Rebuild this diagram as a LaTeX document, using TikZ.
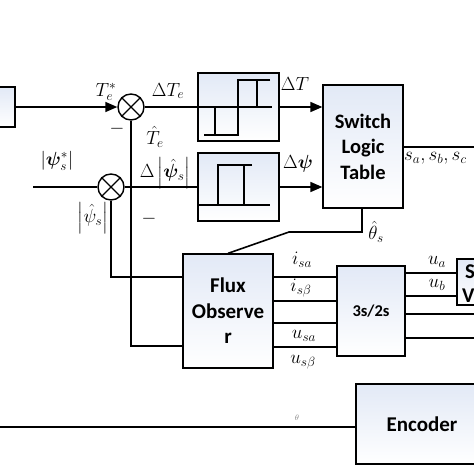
\RequirePackage{fix-cm}
\documentclass[tikz,border=0pt]{standalone}
\usepackage{amsmath}
\usepackage{bm}
\usepackage{fontspec}
\newfontfamily\boxfont{Carlito}
\usetikzlibrary{arrows.meta}
\definecolor{boxblue}{RGB}{226,233,246}
\tikzset{
  blk/.style={draw, line width=1.3pt, top color=boxblue, bottom color=white, inner sep=0pt,
    font=\boxfont\bfseries\fontsize{21}{25.5}\selectfont, align=center},
  sumnode/.style={draw, circle, minimum size=26pt, inner sep=0pt, line width=1.4pt, fill=white},
  wire/.style={line width=1.6pt},
  arr/.style={-{Triangle[length=12pt,width=10pt]}},
  lbl/.style={font=\fontsize{19}{22}\selectfont, inner sep=0pt},
  boxtext/.style={font=\boxfont\bfseries\fontsize{21}{25.5}\selectfont, inner sep=0pt, align=center}
}
\begin{document}
\begin{tikzpicture}[x=1pt,y=-1pt]
\useasboundingbox (0,0) rectangle (474,474);
\clip (0,0) rectangle (474,474);
% blocks
\node[blk, minimum width=30pt, minimum height=40pt] (ref) at (0,107) {};
\node[blk, minimum width=81pt, minimum height=68pt] (h1) at (238.5,107) {};
\node[blk, minimum width=81pt, minimum height=68pt] (h2) at (238.5,187) {};
\node[blk, font=\boxfont\bfseries\fontsize{20.5}{25.5}\selectfont, minimum width=80pt, minimum height=123pt] (sw) at (363,146.5) {Switch\\Logic\\Table};
\node[blk, minimum width=90pt, minimum height=114pt] (fo) at (228,311) {Flux\\Observe\\r};
\node[blk, font=\boxfont\bfseries\fontsize{16.5}{20}\selectfont, minimum width=68pt, minimum height=90pt] (tr) at (371,311) {3s/2s};
\node[blk, minimum width=40pt, minimum height=46pt] (sv) at (477,282) {};
\node[boxtext, anchor=west] (svs) at (465,272) {S};
\node[boxtext, anchor=west] (svv) at (462,296) {V};
\node[blk, minimum width=160pt, minimum height=80pt] (enc) at (436,424) {};
\node[boxtext] (enct) at (422,424) {Encoder};
% summing junctions
\node[sumnode] (c1) at (131,107) {};
\node[sumnode] (c2) at (111,187) {};
\draw[line width=1.4pt] (c1.45) -- (c1.225) (c1.135) -- (c1.315);
\draw[line width=1.4pt] (c2.45) -- (c2.225) (c2.135) -- (c2.315);
% hysteresis characteristics
\coordinate (h1a) at (272,107);
\draw[wire] (h1.west) -- (h1a);
\draw[wire] (270,80) -- (238,80) -- (238,135) -- (204,135);
\draw[wire] (257,80) -- (257,107);
\draw[wire] (215,107) -- (215,135);
\coordinate (h2a) at (198,205);
\coordinate (h2b) at (270,205);
\draw[wire] (h2a) -- (h2b);
\draw[wire] (252,165) -- (218,165) -- (218,205);
\draw[wire] (244,165) -- (244,205);
% connectors
\draw[wire, arr] (ref.east) -- (c1.west);
\draw[wire] (c1.east) -- (h1.west);
\draw[wire, arr] (h1.east) -- (h1.east -| sw.west);
\coordinate (psin) at (33,187);
\draw[wire] (psin) -- (c2.west);
\draw[wire] (c2.east) -- (h2.west);
\draw[wire, arr] (h2.east) -- (h2.east -| sw.west);
\coordinate (swo) at (480,147);
\draw[wire] (sw.east |- swo) -- (swo);
\coordinate (thc) at (362,232);
\coordinate (thd) at (289,232);
\draw[wire] (sw.south -| thc) -- (thc) -- (thd) -- (fo.north);
\coordinate (fa) at (0,277);
\coordinate (fb) at (0,346);
\draw[wire] (c2.south) |- (fo.west |- fa);
\draw[wire] (c1.south) |- (fo.west |- fb);
\coordinate (o1) at (0,277);
\coordinate (o2) at (0,301);
\coordinate (o3) at (0,323);
\coordinate (o4) at (0,347);
\draw[wire] (fo.east |- o1) -- (tr.west |- o1);
\draw[wire] (fo.east |- o2) -- (tr.west |- o2);
\draw[wire] (fo.east |- o3) -- (tr.west |- o3);
\draw[wire] (fo.east |- o4) -- (tr.west |- o4);
\coordinate (p1) at (0,273);
\coordinate (p2) at (0,296);
\coordinate (p3) at (480,314);
\coordinate (p4) at (480,338);
\draw[wire] (tr.east |- p1) -- (sv.west |- p1);
\draw[wire] (tr.east |- p2) -- (sv.west |- p2);
\draw[wire] (tr.east |- p3) -- (p3);
\draw[wire] (tr.east |- p4) -- (p4);
\coordinate (encl) at (-5,427);
\draw[wire] (encl) -- (enc.west |- encl);
% labels
\node[lbl] (lte) at (106,92) {$T_e^*$};
\node[lbl] (lm1) at (117,129) {$-$};
\node[lbl] (lteh) at (155,137) {$\hat{T}_e$};
\node[lbl] (ldte) at (168,91) {$\Delta T_e$};
\node[lbl] (ldt) at (295,84) {$\Delta T$};
\node[lbl] (ldpsi) at (298,164) {$\Delta\bm{\psi}$};
\node[lbl] (lpsir) at (57,161) {$\left|\bm{\psi}_s^*\right|$};
\node[lbl] (lpsih) at (93,218) {$\left|\hat{\psi}_s\right|$};
\node[lbl] (lm2) at (149,219) {$-$};
\node[lbl] (ldpsih) at (165,173) {$\Delta\left|\hat{\bm{\psi}}_s\right|$};
\node[lbl, anchor=west] (lsw) at (404,158) {$s_a,s_b,s_c$};
\node[lbl] (lth) at (376,232) {$\hat{\theta}_s$};
\node[lbl] (lisa) at (302,260) {$i_{sa}$};
\node[lbl] (lisb) at (301,288) {$i_{s\beta}$};
\node[lbl] (lusa) at (304,336) {$u_{sa}$};
\node[lbl] (lusb) at (303,362) {$u_{s\beta}$};
\node[lbl] (lua) at (437,262) {$u_a$};
\node[lbl] (lub) at (437,285) {$u_b$};
\node[inner sep=0pt, text=gray, font=\fontsize{8}{9}\selectfont] (lthe) at (297,418) {$\theta$};
\end{tikzpicture}
\end{document}
